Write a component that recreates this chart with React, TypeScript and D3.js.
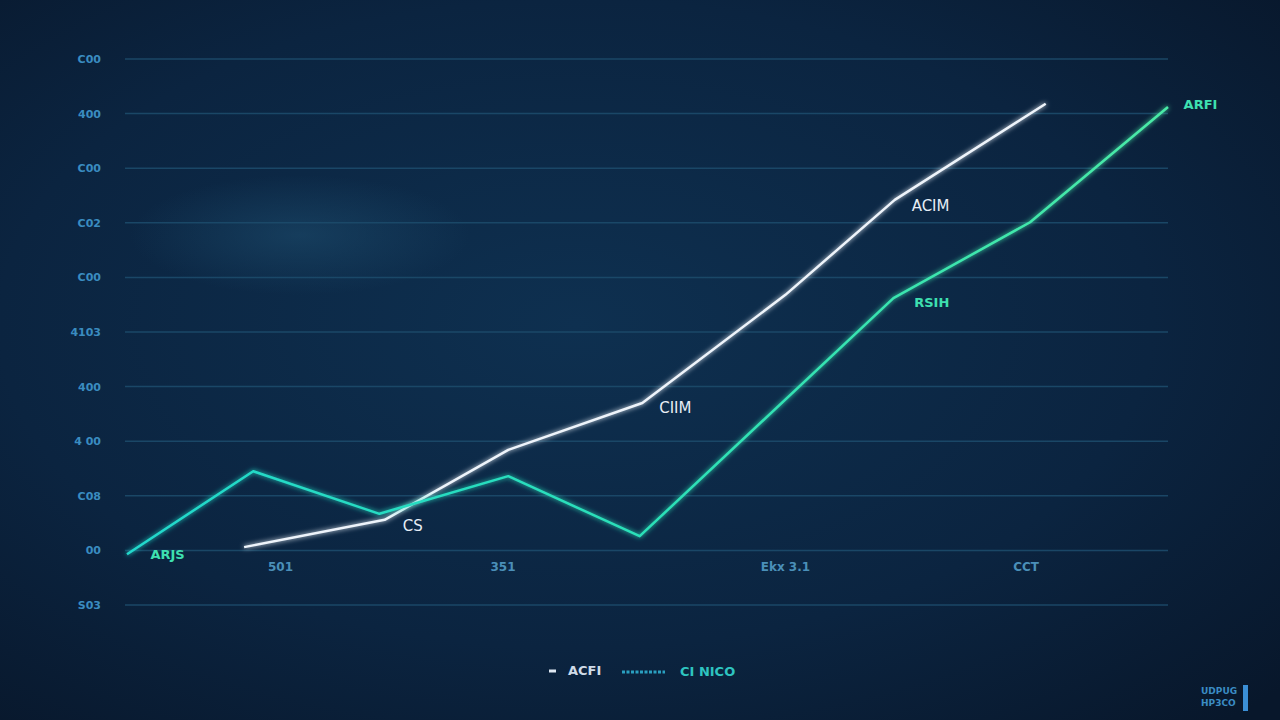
import React from "react";
import * as d3 from "d3";

const yTickLabels = ["S03", "00", "C08", "4 00", "400", "4103", "C00", "C02", "C00", "400", "C00"];
const xTickValues = [1.18, 2.89, 5.06, 6.91];
const xTickLabels = ["501", "351", "Ekx 3.1", "CCT"];

const tealX = [0, 0.97, 1.94, 2.93, 3.94, 5.89, 6.94, 8];
const tealY = [0.93, 2.45, 1.67, 2.36, 1.26, 5.62, 7.01, 9.12];
const whiteX = [0.9, 1.98, 2.93, 3.96, 5.06, 5.9, 7.06];
const whiteY = [1.06, 1.56, 2.84, 3.7, 5.68, 7.42, 9.18];

const annotations = [
  { x: 0.18, y: 0.93, text: "ARJS", series: "teal" },
  { x: 2.12, y: 1.45, text: "CS", series: "white" },
  { x: 4.09, y: 3.6, text: "CIIM", series: "white" },
  { x: 6.03, y: 7.3, text: "ACIM", series: "white" },
  { x: 6.05, y: 5.55, text: "RSIH", series: "teal" },
  { x: 8.12, y: 9.18, text: "ARFI", series: "teal" },
];

const legendLabels = ["ACFI", "CI NICO"];

export default function App() {
  const W = 1280, H = 720;
  const x = d3.scaleLinear().domain([0, 8]).range([127, 1168]);
  const y = d3.scaleLinear().domain([0, 10]).range([605, 59]);
  const line = d3.line<[number, number]>().x(d => x(d[0])).y(d => y(d[1]));
  const tealPts = tealX.map((v, i) => [v, tealY[i]] as [number, number]);
  const whitePts = whiteX.map((v, i) => [v, whiteY[i]] as [number, number]);
  const ticks = d3.range(0, 11);
  const font = "'DejaVu Sans', sans-serif";

  return (
    <svg width={W} height={H} style={{ position: "absolute", left: 0, top: 0, display: "block" }}>
      <defs>
        <radialGradient id="bg" cx="0.45" cy="0.45" r="0.75">
          <stop offset="0" stopColor="#0e3050" />
          <stop offset="0.6" stopColor="#0b2440" />
          <stop offset="1" stopColor="#08172b" />
        </radialGradient>
        <radialGradient id="blob" cx="0.5" cy="0.5" r="0.5">
          <stop offset="0" stopColor="#1d4d6e" stopOpacity="0.55" />
          <stop offset="1" stopColor="#1d4d6e" stopOpacity="0" />
        </radialGradient>
        <linearGradient id="tealGrad" x1="127" x2="1168" y1="0" y2="0" gradientUnits="userSpaceOnUse">
          <stop offset="0" stopColor="#22d8cc" />
          <stop offset="0.5" stopColor="#2be0b8" />
          <stop offset="1" stopColor="#4aeaa6" />
        </linearGradient>
        <filter id="glow" x="-10%" y="-10%" width="120%" height="120%">
          <feGaussianBlur stdDeviation="2.5" result="b" />
          <feMerge>
            <feMergeNode in="b" />
            <feMergeNode in="SourceGraphic" />
          </feMerge>
        </filter>
      </defs>
      <rect x={0} y={0} width={W} height={H} fill="url(#bg)" />
      <ellipse cx={300} cy={235} rx={170} ry={60} fill="url(#blob)" />

      {ticks.map(t => (
        <g key={t}>
          <line x1={125} x2={1168} y1={y(t)} y2={y(t)} stroke="#1c4b6b" strokeWidth={1.5} opacity={0.9} />
          <text x={101} y={y(t) + 4} textAnchor="end" fill="#3a8cc0" fontSize={11} fontWeight="bold" fontFamily={font}>
            {yTickLabels[t]}
          </text>
        </g>
      ))}

      {xTickValues.map((v, i) => (
        <text key={i} x={x(v)} y={571} textAnchor="middle" fill="#4a8fb8" fontSize={12} fontWeight="bold" fontFamily={font}>
          {xTickLabels[i]}
        </text>
      ))}

      <path d={line(whitePts) || ""} fill="none" stroke="#eef4fb" strokeWidth={2.5} filter="url(#glow)" strokeLinejoin="round" />
      <path d={line(tealPts) || ""} fill="none" stroke="url(#tealGrad)" strokeWidth={2.5} filter="url(#glow)" strokeLinejoin="round" />

      {annotations.map((a, i) => (
        <text key={i} x={x(a.x)} y={y(a.y) + 5} fill={a.series === "teal" ? "#3ee0b0" : "#e6edf5"}
          fontSize={a.series === "teal" ? 13 : 15} fontWeight={a.series === "teal" ? "bold" : "normal"} fontFamily={font}>
          {a.text}
        </text>
      ))}

      <g>
        <line x1={549} x2={556} y1={671} y2={671} stroke="#dfe8f2" strokeWidth={3} />
        <text x={568} y={675} fill="#cfdbe8" fontSize={13} fontWeight="bold" fontFamily={font}>{legendLabels[0]}</text>
        <line x1={622} x2={665} y1={672} y2={672} stroke="#2a9fc0" strokeWidth={3} strokeDasharray="3 1.5" />
        <text x={680} y={676} fill="#2ec4c0" fontSize={13} fontWeight="bold" fontFamily={font}>{legendLabels[1]}</text>
      </g>

      <g>
        <text x={1201} y={694} fill="#3b8cc4" fontSize={9} fontWeight="bold" fontFamily={font}>UDPUG</text>
        <text x={1201} y={706} fill="#3b8cc4" fontSize={9} fontWeight="bold" fontFamily={font}>HP3CO</text>
        <rect x={1243} y={685} width={5} height={26} fill="#3b8fd6" />
      </g>
    </svg>
  );
}
